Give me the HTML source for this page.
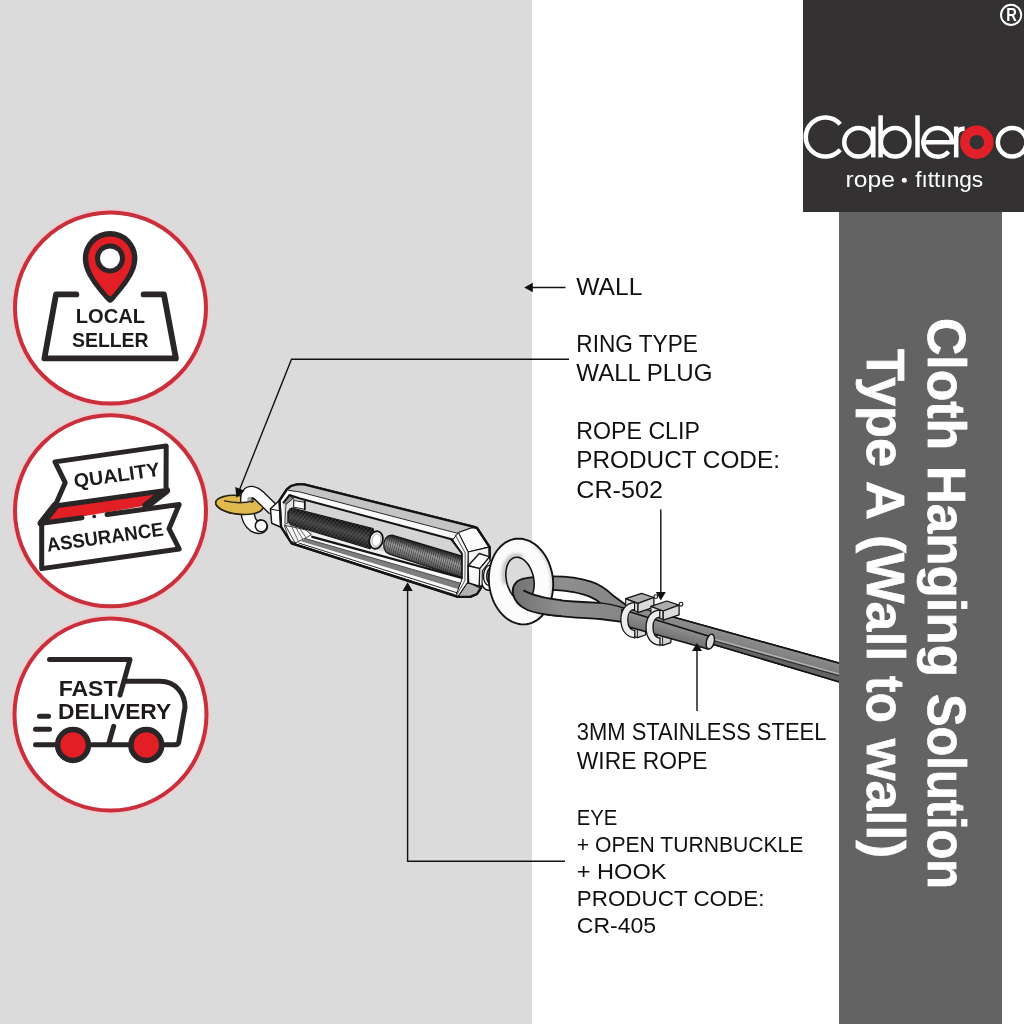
<!DOCTYPE html>
<html>
<head>
<meta charset="utf-8">
<title>Cloth Hanging Solution Type A</title>
<style>
html,body{margin:0;padding:0;background:#fff;}
body{width:1024px;height:1024px;overflow:hidden;font-family:"Liberation Sans",sans-serif;}
svg{display:block;position:absolute;left:0;top:0;will-change:transform;}
text{font-family:"Liberation Sans",sans-serif;}
.lbl{font-size:24px;fill:#111;}
.bt{font-size:20px;font-weight:bold;fill:#1e1a1b;}
</style>
</head>
<body>
<svg width="1024" height="1024" viewBox="0 0 1024 1024">
<!-- BACKGROUND -->
<rect x="0" y="0" width="1024" height="1024" fill="#ffffff"/>
<rect x="0" y="0" width="532" height="1024" fill="#dbdbdb"/>
<!-- SIDEBAR -->
<rect x="839" y="200" width="163" height="824" fill="#636363"/>
<!-- LOGOBOX -->
<rect x="803" y="0" width="221" height="212" fill="#343132"/>
<!-- LOGO -->
<g fill="none" stroke="#ffffff" stroke-width="4.5" stroke-linecap="butt">
<!-- C -->
<path d="M840.2,124.2 A19.6,19.6 0 1 0 840.2,149.8"/>
<!-- a -->
<circle cx="858.6" cy="142.2" r="14.3"/>
<path d="M873.3,126.6 V157.4"/>
<!-- b -->
<path d="M880.6,115.3 V157.4"/>
<circle cx="895.2" cy="142.2" r="14.3"/>
<!-- l -->
<path d="M917.5,115.3 V157.4"/>
<!-- e -->
<path d="M923.6,142.2 H952 A14.3,14.3 0 1 0 948.6,151.6"/>
<!-- r -->
<path d="M956.2,126.6 V157.4"/>
<path d="M956.2,136 Q956.6,128.6 964.6,128.4"/>
<!-- d -->
<circle cx="1012.2" cy="142.2" r="14.3"/>
</g>
<circle cx="976.8" cy="142.2" r="12" fill="none" stroke="#e2202a" stroke-width="9.4"/>
<text x="845.6" y="187" font-size="22.5" fill="#ffffff" textLength="49.3" lengthAdjust="spacingAndGlyphs">rope</text>
<circle cx="904.3" cy="180.2" r="2.5" fill="#ffffff"/>
<text x="915.2" y="187" font-size="22.5" fill="#ffffff" textLength="68" lengthAdjust="spacingAndGlyphs">f&#305;tt&#305;ngs</text>
<circle cx="1011.1" cy="14.9" r="10.1" fill="none" stroke="#ffffff" stroke-width="1.9"/>
<text x="1006.2" y="20.9" font-size="17.5" font-weight="bold" fill="#ffffff" textLength="10.6" lengthAdjust="spacingAndGlyphs">R</text>
<!-- TITLE -->
<g font-size="53" font-weight="bold" fill="#ffffff" stroke="#ffffff" stroke-width="0.7">
<text transform="translate(928,317.9) rotate(90)" textLength="132.2" lengthAdjust="spacingAndGlyphs">Cloth</text>
<text transform="translate(928,465.7) rotate(90)" textLength="211.2" lengthAdjust="spacingAndGlyphs">Hanging</text>
<text transform="translate(928,694.0) rotate(90)" textLength="195.1" lengthAdjust="spacingAndGlyphs">Solution</text>
<text transform="translate(867,349.0) rotate(90)" textLength="118.0" lengthAdjust="spacingAndGlyphs">Type</text>
<text transform="translate(867,480.9) rotate(90)" textLength="39.0" lengthAdjust="spacingAndGlyphs">A</text>
<text transform="translate(867,534.9) rotate(90)" textLength="126.4" lengthAdjust="spacingAndGlyphs">(Wall</text>
<text transform="translate(867,676.0) rotate(90)" textLength="47.1" lengthAdjust="spacingAndGlyphs">to</text>
<text transform="translate(867,738.8) rotate(90)" textLength="119.2" lengthAdjust="spacingAndGlyphs">wall)</text>
</g>
<!-- BADGES -->
<defs>
<filter id="glow" x="-10%" y="-10%" width="120%" height="120%"><feGaussianBlur stdDeviation="1.6"/></filter>
</defs>
<g id="badge-rings">
<g filter="url(#glow)" fill="none" stroke="#f7c6c9" stroke-width="6">
<circle cx="110.5" cy="308" r="95.5"/><circle cx="110.5" cy="510.8" r="95.5"/><circle cx="110.5" cy="714.5" r="96"/>
</g>
<g fill="#ffffff" stroke="#c9303b" stroke-width="4">
<circle cx="110.5" cy="308" r="95.5"/><circle cx="110.5" cy="510.8" r="95.5"/><circle cx="110.5" cy="714.5" r="96"/>
</g>
</g>
<!-- badge 1: local seller -->
<g id="b1">
<path d="M76.4,294.4 H56 L44.4,358.4 H175.9 L163.9,294.4 H143.6" fill="none" stroke="#2a2526" stroke-width="5.8" stroke-linecap="round" stroke-linejoin="round"/>
<path d="M110.1,302.9 Q107.8,302.4 105,299 C96,288 82.8,274 82.8,258.3 A27.3,27.3 0 0 1 137.4,258.3 C137.4,274 124,288 115.2,299 Q112.4,302.4 110.1,302.9 Z" fill="#2a2526"/>
<path d="M110.1,296.2 Q108.7,295.9 107,293.8 C99,284 88.2,272 88.2,258.3 A21.9,21.9 0 0 1 132,258.3 C132,272 121,284 113.2,293.8 Q111.5,295.9 110.1,296.2 Z" fill="#e31f26"/>
<circle cx="110" cy="258.4" r="15" fill="#2a2526"/>
<circle cx="110" cy="258.4" r="10" fill="#ffffff"/>
<text class="bt" style="font-size:20.5px" x="75.7" y="322.6" textLength="69.3" lengthAdjust="spacingAndGlyphs">LOCAL</text>
<text class="bt" style="font-size:20.5px" x="72" y="346.6" textLength="76.6" lengthAdjust="spacingAndGlyphs">SELLER</text>
</g>
<!-- badge 2: quality assurance -->
<g id="b2">
<g stroke="#2a2526" stroke-width="5" stroke-linejoin="round" stroke-linecap="round">
<path d="M55,506.1 L166,490.5 L146.4,505.6 L41.7,523.3 Z" fill="#e31f26" stroke="none"/>
<path d="M166,490.5 L146.4,505.6 M55,506.1 L41.7,523.3" fill="none" stroke-width="8"/>
<path d="M55,461.9 L166.2,445.9 L166,490.5 L55,506.1 L65.2,482.7 Z" fill="#ffffff"/>
<path d="M41.7,523.3 L179.2,504.5 L169,528.7 L179.2,549 L41.7,568.6 Z" fill="#ffffff" stroke="none"/>
<path d="M107,514.4 L179.2,504.5 L169,528.7 L179.2,549 L41.7,568.6 L41.7,523.3 L82,517.8" fill="none"/>
</g>
<circle cx="94.2" cy="516.4" r="1.9" fill="#2a2526"/>
<text class="bt" style="font-size:19.5px" transform="translate(74.8,487.8) rotate(-8)" textLength="86.5" lengthAdjust="spacingAndGlyphs">QUALITY</text>
<text class="bt" style="font-size:19.5px" transform="translate(47.8,551.8) rotate(-8)" textLength="117.5" lengthAdjust="spacingAndGlyphs">ASSURANCE</text>
</g>
<!-- badge 3: fast delivery -->
<g id="b3">
<g fill="none" stroke="#2a2526" stroke-width="5" stroke-linecap="round" stroke-linejoin="round">
<path d="M49.5,659.5 H130 L120,695"/>
<path d="M125.5,681.3 H160 C176,681.3 185,694 185,707.5 L178.7,742.5 Q178,744.7 175,744.7 H162"/>
<path d="M89,744.7 H130"/>
<path d="M113.7,726.3 L108.7,743.7"/>
<path d="M39.5,716.3 H48.5"/>
<path d="M35.5,729.3 H49.5"/>
<path d="M35.5,744.7 H57"/>
</g>
<circle cx="73" cy="745" r="15.4" fill="#e31f26" stroke="#2a2526" stroke-width="5.5"/>
<circle cx="146.3" cy="745" r="15.4" fill="#e31f26" stroke="#2a2526" stroke-width="5.5"/>
<text class="bt" style="font-size:21.5px" x="58.7" y="696" textLength="58.8" lengthAdjust="spacingAndGlyphs">FAST</text>
<text class="bt" style="font-size:21.5px" x="58" y="719" textLength="113.2" lengthAdjust="spacingAndGlyphs">DELIVERY</text>
</g>
<!-- LABELS -->
<g class="lbl">
<text x="576.3" y="295.2" textLength="66.1" lengthAdjust="spacingAndGlyphs">WALL</text>
<text x="576.3" y="351.6" textLength="121.6" lengthAdjust="spacingAndGlyphs">RING TYPE</text>
<text x="576.3" y="381.2" textLength="136.1" lengthAdjust="spacingAndGlyphs">WALL PLUG</text>
<text x="576.3" y="438.8" textLength="123.6" lengthAdjust="spacingAndGlyphs">ROPE CLIP</text>
<text x="576.3" y="468" textLength="203.6" lengthAdjust="spacingAndGlyphs">PRODUCT CODE:</text>
<text x="576.3" y="497.5" textLength="86.6" lengthAdjust="spacingAndGlyphs">CR-502</text>
<text x="576.8" y="739.5" textLength="249.6" lengthAdjust="spacingAndGlyphs">3MM STAINLESS STEEL</text>
<text x="576.8" y="768.5" textLength="130.6" lengthAdjust="spacingAndGlyphs">WIRE ROPE</text>
<text x="576.8" y="824.5" textLength="40.6" lengthAdjust="spacingAndGlyphs" style="font-size:22px">EYE</text>
<text x="576.8" y="852" textLength="226.6" lengthAdjust="spacingAndGlyphs" style="font-size:22px">+ OPEN TURNBUCKLE</text>
<text x="576.8" y="878.8" textLength="89.6" lengthAdjust="spacingAndGlyphs" style="font-size:22px">+ HOOK</text>
<text x="576.8" y="905.7" textLength="187.6" lengthAdjust="spacingAndGlyphs" style="font-size:22px">PRODUCT CODE:</text>
<text x="576.8" y="932.6" textLength="79.3" lengthAdjust="spacingAndGlyphs" style="font-size:22px">CR-405</text>
</g>
<!-- ILLUSTRATION -->
<defs>
<linearGradient id="rod1g" gradientUnits="userSpaceOnUse" x1="330" y1="519" x2="325" y2="537"><stop offset="0" stop-color="#101010"/><stop offset="0.45" stop-color="#3e3e3e"/><stop offset="1" stop-color="#0c0c0c"/></linearGradient>
<linearGradient id="rod2g" gradientUnits="userSpaceOnUse" x1="425" y1="546" x2="419" y2="566"><stop offset="0" stop-color="#2a2a2a"/><stop offset="0.38" stop-color="#a2a2a2"/><stop offset="0.75" stop-color="#6a6a6a"/><stop offset="1" stop-color="#2a2a2a"/></linearGradient>
<pattern id="thr" width="2.2" height="8" patternUnits="userSpaceOnUse" patternTransform="rotate(14)"><rect x="0" y="0" width="0.9" height="8" fill="#1a1a1a" opacity="0.55"/></pattern>
<pattern id="thr1" width="3" height="3" patternUnits="userSpaceOnUse" patternTransform="rotate(40)"><rect x="0" y="0" width="1" height="3" fill="#888" opacity="0.3"/><rect x="0" y="0" width="3" height="0.8" fill="#777" opacity="0.22"/></pattern>
<linearGradient id="ropeg" gradientUnits="userSpaceOnUse" x1="760" y1="640" x2="755" y2="660"><stop offset="0" stop-color="#8e8e8e"/><stop offset="0.55" stop-color="#808080"/><stop offset="1" stop-color="#686868"/></linearGradient>
<linearGradient id="tailg" gradientUnits="userSpaceOnUse" x1="680" y1="626" x2="676" y2="641"><stop offset="0" stop-color="#929292"/><stop offset="1" stop-color="#707070"/></linearGradient>
<linearGradient id="loopg" gradientUnits="userSpaceOnUse" x1="510" y1="600" x2="625" y2="600"><stop offset="0" stop-color="#707070"/><stop offset="0.45" stop-color="#8e8e8e"/><stop offset="1" stop-color="#868686"/></linearGradient>
<filter id="soft" filterUnits="userSpaceOnUse" x="470" y="520" width="110" height="130"><feGaussianBlur stdDeviation="1.7"/></filter>
<clipPath id="eyeclip"><path clip-rule="evenodd" d="M0,0 H1024 V1024 H0 Z"/></clipPath>
</defs>
<g id="illus" stroke-linejoin="round" stroke-linecap="round">
<path d="M626.0,603.8 L846.0,665.0 L846.0,683.9 L626.0,618.6 Z" fill="url(#ropeg)" stroke="#141414" stroke-width="1.4" />
<path d="M714.0,640.4 L846.0,677.1 L846.0,683.3 L714.0,644.1 Z" fill="#646464" stroke="none" stroke-width="1.3" />
<path d="M714,639.2 L846,675.9" stroke="#b4b4b4" stroke-width="1.4" fill="none"/>
<path d="M714,640.8 L846,677.7" stroke="#2a2a2a" stroke-width="1" fill="none"/>
<path d="M700,640.5 L846,683.9" stroke="#141414" stroke-width="1.6" fill="none"/>
<path d="M660,613.3 L846,665.0" stroke="#141414" stroke-width="1.6" fill="none"/>
<path d="M513,594 C511.5,586 516,579.5 526,578.2 C535,576.5 545,576.2 553,576.3 C565,576.3 580,578 591,581.6 C600,584.5 607,589.5 613.4,595.8 L626,605 L626,622.4 L600,619 C590,618.3 580,617.8 573.7,617.3 C563,616.5 553,615.6 545.6,614.4 C537,613 531,611.5 526.9,609.7 C520,606.5 514.5,601.5 513,594 Z M541,592 C545,590.3 549,589.8 553.2,589.8 C561,590 568,591 573.7,592.1 C580,593.4 586,595 590.2,596.8 C594,598.4 597.5,600.4 600,602.9 C590,602.6 582,602.1 573.7,601.5 C566,601 559,600.2 552.7,599.1 C547,598 543,596.5 541,592 Z" fill="url(#loopg)" fill-rule="evenodd" stroke="#141414" stroke-width="1.8"/>
<path d="M600,602.9 C607,603.6 614,605 624,608" fill="none" stroke="#141414" stroke-width="1.4"/>
<g id="ringhook">
<ellipse cx="239.3" cy="504.9" rx="23.7" ry="9.3" transform="rotate(6 239.3 504.9)" fill="#e0b94f" stroke="#2b2410" stroke-width="1.6"/>
<path d="M273.5,509.8 L259,495.6 C254.5,491.2 248,490.3 246.6,495.8 C246,498.5 246.2,503 246.3,508" fill="none" stroke="#141414" stroke-width="12.6" stroke-linecap="butt"/>
<path d="M273.5,509.8 L259,495.6 C254.5,491.2 248,490.3 246.6,495.8 C246,498.5 246.2,503 246.3,508" fill="none" stroke="#fcfcfc" stroke-width="9.8" stroke-linecap="butt"/>
<path d="M247.3,499.5 C247.5,497 249,496 250.8,497.3 L252,501 L247.3,501.5 Z" fill="#a6a6a6" stroke="none"/>
<path d="M241,512 C241.5,520 244,526 250.5,530.8 C254,533 258,533.7 261,533.3 C265,532.6 267.7,529.5 267.5,525.5 L261,520 L257,520.6 C255.5,519 254.5,517 254.3,512 Z" fill="#fcfcfc" stroke="#141414" stroke-width="1.4" />
<circle cx="261.2" cy="525.8" r="5.9" fill="#fcfcfc" stroke="#141414" stroke-width="1.5"/>
<clipPath id="rfront"><path d="M210,504 L224.5,500.9 Q238,504.3 253.5,501.2 L258,502.5 L268,508 L268,522 L210,522 Z"/></clipPath>
<ellipse cx="239.3" cy="504.9" rx="23.7" ry="9.3" transform="rotate(6 239.3 504.9)" fill="#e0b94f" stroke="#2b2410" stroke-width="1.6" clip-path="url(#rfront)"/>
<path d="M224.5,500.9 Q238,504.3 253.5,501.2" fill="none" stroke="#2b2410" stroke-width="1.4"/>
</g>
<g id="turnbuckle">
<path d="M270.4,508.8 L279.5,500.3 L284.0,502.5 L284.0,526.5 L281.0,527.3 L271.7,523.2 Z" fill="#fbfbfb" stroke="#141414" stroke-width="1.5" />
<path d="M271.3,509.3 L281,511 M281,511 L281,527" fill="none" stroke="#141414" stroke-width="1"/>
<path d="M279.5,500.5 L286.8,489.3 L291.0,486.0 L297.0,484.3 L304.0,484.4 L473.0,526.6 L477.0,527.9 L489.6,547.1 L489.6,557.0 L480.8,588.1 L477.0,594.0 L470.0,596.9 L457.8,596.8 L291.7,543.4 L281.1,527.0 Z" fill="#f9f9f9" stroke="#141414" stroke-width="2.2" />
<path d="M288.2,489.6 L292.0,486.6 L297.5,485.2 L304.0,485.3 L472.0,527.2 L458.5,533.6 L300.0,492.0 L290.0,491.5 Z" fill="#c4c4c4" stroke="none" stroke-width="1.3" />
<path d="M288.5,490.3 L300,492.0 L458.5,533.6" fill="none" stroke="#141414" stroke-width="0.9"/>
<path d="M289.4,495.0 L300.0,498.5 L453.0,539.6 L462.3,553.5 L462.3,578.4 L455.0,576.0 L312.3,536.9 L296.0,529.5 L284.5,523.5 L283.3,502.8 Z" fill="#d4d4d4" stroke="none" stroke-width="1.3" />
<path d="M284.3,502.3 L289.4,496.4 L293.6,498.0 L286.3,504.2 Z" fill="#8a8a8a" stroke="#141414" stroke-width="0.8" />
<path d="M286.3,504.2 L293.6,498.0 L294.1,500.8 L294.1,507.2 L287.6,511.5 L287.2,523.8 L285.2,523.0 Z" fill="#e0e0e0" stroke="#141414" stroke-width="0.7" />
<path d="M294.1,500.6 L304.6,502.2 L304.6,509.3 L294.1,507.2 Z" fill="#fbfbfb" stroke="#141414" stroke-width="0.9" />
<path d="M304.8,501.5 L304.8,509.6" stroke="#141414" stroke-width="1.8" fill="none"/>
<path d="M284.7,525.6 L291.7,526.6 L305.8,530.0 L311.3,534.6 L306.5,537.6 L296.0,542.6 L290.4,541.4 Z" fill="#f8f8f8" stroke="#141414" stroke-width="0.8" />
<path d="M291.7,526.6 L298,540.5 M295.6,527.4 L302.5,538.8 M299.5,528.4 L305.8,537.2" stroke="#444" stroke-width="0.8" fill="none"/>
<path d="M312.0,532.6 L455.0,570.5 L455.0,576.0 L312.3,536.9 Z" fill="#f0f0f0" stroke="none" stroke-width="1.3" />
<path d="M283.5,502.5 L289.4,495 L300,498.5 L453.5,539.7" fill="none" stroke="#141414" stroke-width="2"/>
<path d="M292.0,508.1 L373.0,528.6 L376.0,540.3 L370.0,548.6 L291.0,524.8 L288.3,521.5 L288.5,512.0 L289.8,509.0 Z" fill="url(#rod1g)" stroke="#141414" stroke-width="1.2" />
<path d="M292.0,508.1 L373.0,528.6 L376.0,540.3 L370.0,548.6 L291.0,524.8 L288.3,521.5 L288.5,512.0 L289.8,509.0 Z" fill="url(#thr1)" stroke="none" stroke-width="1.3" />
<ellipse cx="376.1" cy="540" rx="6.7" ry="8.9" transform="rotate(14 376.1 540)" fill="#fdfdfd" stroke="#141414" stroke-width="1.9"/>
<ellipse cx="376.5" cy="540.1" rx="4.4" ry="6.4" transform="rotate(14 376.5 540.1)" fill="none" stroke="#9a9a9a" stroke-width="0.8"/>
<clipPath id="winclip"><path d="M289.4,495.0 L300.0,498.5 L453.0,539.6 L462.3,553.5 L462.3,578.4 L455.0,576.0 L312.3,536.9 L296.0,529.5 L284.5,523.5 L283.3,502.8 Z"/></clipPath>
<g clip-path="url(#winclip)">
<path d="M392.0,535.1 L463.0,556.5 L463.0,578.1 L389.5,554.2 L386.0,552.0 L384.0,548.0 L383.8,543.0 L385.5,538.5 L388.5,535.8 Z" fill="url(#rod2g)" stroke="#141414" stroke-width="1.2" />
<path d="M392.0,535.1 L463.0,556.5 L463.0,578.1 L389.5,554.2 L386.0,552.0 L384.0,548.0 L383.8,543.0 L385.5,538.5 L388.5,535.8 Z" fill="url(#thr)" stroke="none" stroke-width="1.3" />
</g>
<path d="M451.2,539.1 L461.9,553.3 L462.5,578.2" fill="none" stroke="#141414" stroke-width="2"/>
<path d="M312.3,536.9 L462,578.0" fill="none" stroke="#141414" stroke-width="2.3"/>
<path d="M305.0,538.4 L461.0,583.4 L459.5,589.6 L301.0,541.2 Z" fill="#7e7e7e" stroke="none" stroke-width="1.3" />
<path d="M305,538.4 L460,583.1" fill="none" stroke="#3a3a3a" stroke-width="0.9"/>
<path d="M299,543.1 L458,593.1" fill="none" stroke="#141414" stroke-width="0.9"/>
<path d="M296.0,544.7 L453.0,594.3 L456.0,596.7 L292.5,543.3 Z" fill="#d6d6d6" stroke="none" stroke-width="1.3" />
<path d="M284.6,524 L296,544.4 L454,594.4" fill="none" stroke="#141414" stroke-width="0.8"/>
<path d="M458.3,532.5 L472.0,527.6 L476.4,528.1 L489.1,547.1 L468.1,552.0 Z" fill="#fcfcfc" stroke="#141414" stroke-width="1.2" />
<path d="M468.1,552.0 L489.1,547.1 L489.6,558.0 L468.1,566.5 Z" fill="#f4f4f4" stroke="#141414" stroke-width="1.2" />
<path d="M467.6,582.3 L480.8,588.1 L477.0,594.0 L470.0,596.9 L457.8,596.6 Z" fill="#b2b2b2" stroke="#141414" stroke-width="1.2" />
<path d="M453.0,539.6 L458.3,532.5 L468.1,552.0 L467.6,582.3 L457.8,596.6 L456.2,594.6 L462.3,578.4 L462.3,553.5 Z" fill="#f7f7f7" stroke="#141414" stroke-width="1" />
<path d="M455.3,535 L465.2,553 L464.9,580.5 L457,594.5" fill="none" stroke="#141414" stroke-width="0.7"/>
<path d="M279.5,500.5 L286.8,489.3 L291.0,486.0 L297.0,484.3 L304.0,484.4 L473.0,526.6 L477.0,527.9 L489.6,547.1 L489.6,557.0 L480.8,588.1 L477.0,594.0 L470.0,596.9 L457.8,596.8 L291.7,543.4 L281.1,527.0 Z" fill="none" stroke="#141414" stroke-width="2.3"/>
<ellipse cx="489.2" cy="575.3" rx="8.8" ry="15" transform="rotate(4 489.2 575.3)" fill="#fbfbfb" stroke="#141414" stroke-width="1.5"/>
<ellipse cx="489.8" cy="575.4" rx="6.3" ry="10.2" transform="rotate(4 489.8 575.4)" fill="#f0f0f0" stroke="#141414" stroke-width="1.3"/>
<ellipse cx="490.4" cy="575.6" rx="3.6" ry="7.6" transform="rotate(4 490.4 575.6)" fill="#e4e4e4" stroke="#141414" stroke-width="1.6"/>
<path d="M468.1,565.7 L479.3,553.5 L489.6,556.9 L479.8,568.6 Z" fill="#fbfbfb" stroke="#141414" stroke-width="1.4" />
<path d="M468.1,565.7 L479.8,568.6 L479.3,586.2 L468.6,582.8 Z" fill="#fbfbfb" stroke="#141414" stroke-width="1.4" />
<path d="M479.8,568.6 L489.6,556.9 L490.0,561.0 L482.4,570.8 L482.0,585.6 L479.3,586.2 Z" fill="#ececec" stroke="#141414" stroke-width="1.1" />
</g>
<clipPath id="ringclip"><path clip-rule="evenodd" d="M552.8,577.6 L553.1,581.3 L553.2,585.1 L553.0,588.8 L552.6,592.4 L552.0,596.0 L551.1,599.5 L550.0,602.8 L548.7,605.9 L547.2,608.9 L545.4,611.7 L543.5,614.2 L541.4,616.5 L539.2,618.5 L536.8,620.3 L534.3,621.7 L531.7,622.9 L529.0,623.7 L526.2,624.2 L523.5,624.4 L520.6,624.2 L517.8,623.7 L515.1,622.9 L512.3,621.8 L509.7,620.4 L507.1,618.7 L504.6,616.7 L502.2,614.4 L500.0,611.9 L498.0,609.2 L496.1,606.2 L494.4,603.1 L492.9,599.8 L491.7,596.3 L490.6,592.8 L489.8,589.1 L489.2,585.4 L488.9,581.7 L488.8,577.9 L489.0,574.2 L489.4,570.6 L490.0,567.0 L490.9,563.5 L492.0,560.2 L493.3,557.1 L494.8,554.1 L496.6,551.3 L498.5,548.8 L500.6,546.5 L502.8,544.5 L505.2,542.7 L507.7,541.3 L510.3,540.1 L513.0,539.3 L515.8,538.8 L518.5,538.6 L521.4,538.8 L524.2,539.3 L526.9,540.1 L529.7,541.2 L532.3,542.6 L534.9,544.3 L537.4,546.3 L539.8,548.6 L542.0,551.1 L544.0,553.8 L545.9,556.8 L547.6,559.9 L549.1,563.2 L550.3,566.7 L551.4,570.2 L552.2,573.9 Z M533.3,576.2 L533.6,578.2 L533.9,580.1 L534.1,582.0 L534.2,583.9 L534.1,585.8 L534.0,587.6 L533.7,589.3 L533.4,591.0 L532.9,592.6 L532.4,594.1 L531.7,595.4 L531.0,596.7 L530.2,597.8 L529.3,598.8 L528.3,599.6 L527.3,600.3 L526.2,600.8 L525.0,601.1 L523.9,601.3 L522.7,601.3 L521.4,601.2 L520.2,600.9 L519.0,600.4 L517.7,599.7 L516.5,598.9 L515.3,598.0 L514.2,596.9 L513.1,595.7 L512.0,594.3 L511.0,592.9 L510.1,591.3 L509.3,589.6 L508.5,587.9 L507.8,586.1 L507.2,584.2 L506.7,582.4 L506.4,580.4 L506.1,578.5 L505.9,576.6 L505.8,574.7 L505.9,572.8 L506.0,571.0 L506.3,569.3 L506.6,567.6 L507.1,566.0 L507.6,564.5 L508.3,563.2 L509.0,561.9 L509.8,560.8 L510.7,559.8 L511.7,559.0 L512.7,558.3 L513.8,557.8 L515.0,557.5 L516.1,557.3 L517.3,557.3 L518.6,557.4 L519.8,557.7 L521.0,558.2 L522.3,558.9 L523.5,559.7 L524.7,560.6 L525.8,561.7 L526.9,562.9 L528.0,564.3 L529.0,565.7 L529.9,567.3 L530.7,569.0 L531.5,570.7 L532.2,572.5 L532.8,574.4 Z"/></clipPath>
<path d="M552.8,577.6 L553.1,581.3 L553.2,585.1 L553.0,588.8 L552.6,592.4 L552.0,596.0 L551.1,599.5 L550.0,602.8 L548.7,605.9 L547.2,608.9 L545.4,611.7 L543.5,614.2 L541.4,616.5 L539.2,618.5 L536.8,620.3 L534.3,621.7 L531.7,622.9 L529.0,623.7 L526.2,624.2 L523.5,624.4 L520.6,624.2 L517.8,623.7 L515.1,622.9 L512.3,621.8 L509.7,620.4 L507.1,618.7 L504.6,616.7 L502.2,614.4 L500.0,611.9 L498.0,609.2 L496.1,606.2 L494.4,603.1 L492.9,599.8 L491.7,596.3 L490.6,592.8 L489.8,589.1 L489.2,585.4 L488.9,581.7 L488.8,577.9 L489.0,574.2 L489.4,570.6 L490.0,567.0 L490.9,563.5 L492.0,560.2 L493.3,557.1 L494.8,554.1 L496.6,551.3 L498.5,548.8 L500.6,546.5 L502.8,544.5 L505.2,542.7 L507.7,541.3 L510.3,540.1 L513.0,539.3 L515.8,538.8 L518.5,538.6 L521.4,538.8 L524.2,539.3 L526.9,540.1 L529.7,541.2 L532.3,542.6 L534.9,544.3 L537.4,546.3 L539.8,548.6 L542.0,551.1 L544.0,553.8 L545.9,556.8 L547.6,559.9 L549.1,563.2 L550.3,566.7 L551.4,570.2 L552.2,573.9 Z M533.3,576.2 L533.6,578.2 L533.9,580.1 L534.1,582.0 L534.2,583.9 L534.1,585.8 L534.0,587.6 L533.7,589.3 L533.4,591.0 L532.9,592.6 L532.4,594.1 L531.7,595.4 L531.0,596.7 L530.2,597.8 L529.3,598.8 L528.3,599.6 L527.3,600.3 L526.2,600.8 L525.0,601.1 L523.9,601.3 L522.7,601.3 L521.4,601.2 L520.2,600.9 L519.0,600.4 L517.7,599.7 L516.5,598.9 L515.3,598.0 L514.2,596.9 L513.1,595.7 L512.0,594.3 L511.0,592.9 L510.1,591.3 L509.3,589.6 L508.5,587.9 L507.8,586.1 L507.2,584.2 L506.7,582.4 L506.4,580.4 L506.1,578.5 L505.9,576.6 L505.8,574.7 L505.9,572.8 L506.0,571.0 L506.3,569.3 L506.6,567.6 L507.1,566.0 L507.6,564.5 L508.3,563.2 L509.0,561.9 L509.8,560.8 L510.7,559.8 L511.7,559.0 L512.7,558.3 L513.8,557.8 L515.0,557.5 L516.1,557.3 L517.3,557.3 L518.6,557.4 L519.8,557.7 L521.0,558.2 L522.3,558.9 L523.5,559.7 L524.7,560.6 L525.8,561.7 L526.9,562.9 L528.0,564.3 L529.0,565.7 L529.9,567.3 L530.7,569.0 L531.5,570.7 L532.2,572.5 L532.8,574.4 Z" fill="#fcfcfc" fill-rule="evenodd" stroke="none"/>
<g clip-path="url(#ringclip)"><path d="M504.7,582.4 L504.3,580.4 L504.0,578.3 L503.8,576.3 L503.7,574.2 L503.8,572.2 L504.0,570.3 L504.3,568.4 L504.7,566.6 L505.2,564.9 L505.9,563.3 L506.6,561.8 L507.5,560.5 L508.4,559.3 L509.4,558.2 L510.5,557.3 L511.7,556.6 L512.9,556.0 L514.2,555.6 L515.5,555.4 L516.9,555.4 L518.2,555.5 L519.6,555.8 L521.0,556.4" fill="none" stroke="#8a8a8a" stroke-width="4" filter="url(#soft)" opacity="0.5"/></g>
<g clip-path="url(#ringclip)"><path d="M537.4,546.3 L539.8,548.6 L542.0,551.1 L544.0,553.8 L545.9,556.8 L547.6,559.9 L549.1,563.2 L550.3,566.7 L551.4,570.2 L552.2,573.9 L552.8,577.6 L553.1,581.3 L553.2,585.1 L553.0,588.8 L552.6,592.4 L552.0,596.0 L551.1,599.5 L550.0,602.8 L548.7,605.9 L547.2,608.9 L545.4,611.7 L543.5,614.2 L541.4,616.5 L539.2,618.5" fill="none" stroke="#b0b0b0" stroke-width="5" filter="url(#soft)" opacity="0.5"/></g>
<path d="M552.8,577.6 L553.1,581.3 L553.2,585.1 L553.0,588.8 L552.6,592.4 L552.0,596.0 L551.1,599.5 L550.0,602.8 L548.7,605.9 L547.2,608.9 L545.4,611.7 L543.5,614.2 L541.4,616.5 L539.2,618.5 L536.8,620.3 L534.3,621.7 L531.7,622.9 L529.0,623.7 L526.2,624.2 L523.5,624.4 L520.6,624.2 L517.8,623.7 L515.1,622.9 L512.3,621.8 L509.7,620.4 L507.1,618.7 L504.6,616.7 L502.2,614.4 L500.0,611.9 L498.0,609.2 L496.1,606.2 L494.4,603.1 L492.9,599.8 L491.7,596.3 L490.6,592.8 L489.8,589.1 L489.2,585.4 L488.9,581.7 L488.8,577.9 L489.0,574.2 L489.4,570.6 L490.0,567.0 L490.9,563.5 L492.0,560.2 L493.3,557.1 L494.8,554.1 L496.6,551.3 L498.5,548.8 L500.6,546.5 L502.8,544.5 L505.2,542.7 L507.7,541.3 L510.3,540.1 L513.0,539.3 L515.8,538.8 L518.5,538.6 L521.4,538.8 L524.2,539.3 L526.9,540.1 L529.7,541.2 L532.3,542.6 L534.9,544.3 L537.4,546.3 L539.8,548.6 L542.0,551.1 L544.0,553.8 L545.9,556.8 L547.6,559.9 L549.1,563.2 L550.3,566.7 L551.4,570.2 L552.2,573.9 Z" fill="none" stroke="#141414" stroke-width="1.9"/>
<path d="M533.3,576.2 L533.6,578.2 L533.9,580.1 L534.1,582.0 L534.2,583.9 L534.1,585.8 L534.0,587.6 L533.7,589.3 L533.4,591.0 L532.9,592.6 L532.4,594.1 L531.7,595.4 L531.0,596.7 L530.2,597.8 L529.3,598.8 L528.3,599.6 L527.3,600.3 L526.2,600.8 L525.0,601.1 L523.9,601.3 L522.7,601.3 L521.4,601.2 L520.2,600.9 L519.0,600.4 L517.7,599.7 L516.5,598.9 L515.3,598.0 L514.2,596.9 L513.1,595.7 L512.0,594.3 L511.0,592.9 L510.1,591.3 L509.3,589.6 L508.5,587.9 L507.8,586.1 L507.2,584.2 L506.7,582.4 L506.4,580.4 L506.1,578.5 L505.9,576.6 L505.8,574.7 L505.9,572.8 L506.0,571.0 L506.3,569.3 L506.6,567.6 L507.1,566.0 L507.6,564.5 L508.3,563.2 L509.0,561.9 L509.8,560.8 L510.7,559.8 L511.7,559.0 L512.7,558.3 L513.8,557.8 L515.0,557.5 L516.1,557.3 L517.3,557.3 L518.6,557.4 L519.8,557.7 L521.0,558.2 L522.3,558.9 L523.5,559.7 L524.7,560.6 L525.8,561.7 L526.9,562.9 L528.0,564.3 L529.0,565.7 L529.9,567.3 L530.7,569.0 L531.5,570.7 L532.2,572.5 L532.8,574.4 Z" fill="none" stroke="#141414" stroke-width="1.6"/>
<path d="M524,590.6 C530,594 540,597 552.7,599.1 L560,600.1 L560,616 C553,615.4 549,615 545.6,614.4 C537,613 531,611.5 526.9,609.7 C520,606.5 514.5,601.5 513,594 L513.2,590 Z" fill="url(#loopg)" stroke="none"/>
<path d="M524,590.6 C530,594 540,597 552.7,599.1 L561,600.2" fill="none" stroke="#141414" stroke-width="1.8"/>
<path d="M561,616.2 C553,615.4 549,615 545.6,614.4 C537,613 531,611.5 526.9,609.7 C520,606.5 514.5,601.5 513,594 C512.7,592 512.8,590 513.3,588.3" fill="none" stroke="#141414" stroke-width="1.8"/>
<path d="M631.5,624.0 L646.0,626.0 L645.6,635.0 L637.4,637.7 L631.8,635.9 Z" fill="#d4d4d4" stroke="#141414" stroke-width="1.3" />
<path d="M637.4,626.0 L637.4,637.7" stroke="#141414" stroke-width="0.9" fill="none"/>
<path d="M656.7,631.6 L671.2,633.6 L670.8,642.6 L662.6,645.3 L657.0,643.5 Z" fill="#d4d4d4" stroke="#141414" stroke-width="1.3" />
<path d="M662.6,633.6 L662.6,645.3" stroke="#141414" stroke-width="0.9" fill="none"/>
<path d="M622.0,609.4 L709.0,636.2 L708.0,649.1 L622.0,624.9 Z" fill="url(#tailg)" stroke="#141414" stroke-width="1.6" />
<ellipse cx="710.3" cy="641.6" rx="3.9" ry="7.6" transform="rotate(14 710.3 641.6)" fill="#dcdcdc" stroke="#141414" stroke-width="1.4"/>
<path d="M625.7,598.7 L638.0,603.4 L638.0,612.0 L625.7,607.0 Z" fill="#e2e2e2" stroke="#141414" stroke-width="1.1" />
<path d="M625.7,598.7 L641.6,593.4 L653.9,597.5 L638.0,603.4 Z" fill="#adadad" stroke="#141414" stroke-width="1.3" />
<path d="M638.0,603.4 L653.9,597.5 L653.9,607.2 L638.0,612.6 Z" fill="#dadada" stroke="#141414" stroke-width="1.3" />
<circle cx="655.8" cy="596.6" r="1.9" fill="#f2f2f2" stroke="#141414" stroke-width="1.1"/>
<path d="M634.4,606.0 C628.0,606.3 624.2,612.0 624.3,619.8 C624.4,627.5 627.5,633.4 634.6,634.2" fill="none" stroke="#141414" stroke-width="8.2" stroke-linecap="butt"/>
<path d="M634.4,606.0 C628.0,606.3 624.2,612.0 624.3,619.8 C624.4,627.5 627.5,633.4 634.6,634.2" fill="none" stroke="#ececec" stroke-width="5.6" stroke-linecap="butt"/>
<path d="M634.6,602.0 V610.0 M634.8,630.2 V638.2" fill="none" stroke="#141414" stroke-width="1.2"/>
<path d="M650.9,606.3 L663.2,611.0 L663.2,619.6 L650.9,614.6 Z" fill="#e2e2e2" stroke="#141414" stroke-width="1.1" />
<path d="M650.9,606.3 L666.8,601.0 L679.1,605.1 L663.2,611.0 Z" fill="#adadad" stroke="#141414" stroke-width="1.3" />
<path d="M663.2,611.0 L679.1,605.1 L679.1,614.8 L663.2,620.2 Z" fill="#dadada" stroke="#141414" stroke-width="1.3" />
<circle cx="681.0" cy="604.2" r="1.9" fill="#f2f2f2" stroke="#141414" stroke-width="1.1"/>
<path d="M659.6,613.6 C653.2,613.9 649.4,619.6 649.5,627.4 C649.6,635.1 652.7,641.0 659.8,641.8" fill="none" stroke="#141414" stroke-width="8.2" stroke-linecap="butt"/>
<path d="M659.6,613.6 C653.2,613.9 649.4,619.6 649.5,627.4 C649.6,635.1 652.7,641.0 659.8,641.8" fill="none" stroke="#ececec" stroke-width="5.6" stroke-linecap="butt"/>
<path d="M659.8,609.6 V617.6 M660.0,637.8 V645.8" fill="none" stroke="#141414" stroke-width="1.2"/>
</g>
<!-- /ILLUSTRATION -->
<rect x="839" y="640" width="12" height="60" fill="#636363"/>
<!-- LEADERS -->
<g id="leaders" fill="none" stroke="#111" stroke-width="1.4">
<path d="M565.5,287.5 H530"/>
<path d="M569,359.3 H291.5 L239.6,489.5"/>
<path d="M660.8,509.5 V593"/>
<path d="M697,711 V650.5"/>
<path d="M565,861.3 H407.6 V590"/>
</g>
<g id="arrowheads" fill="#111">
<path d="M524.2,287.5 L532.8,282.7 V292.3 Z"/>
<path d="M236.4,497.8 L235.3,487.1 L244.6,490.8 Z"/>
<path d="M660.8,600.4 L655.8,592 H665.8 Z"/>
<path d="M697,643 L692,651 H702 Z"/>
<path d="M407.6,582.2 L402.5,590.9 H412.7 Z"/>
</g>
</svg>
</body>
</html>
